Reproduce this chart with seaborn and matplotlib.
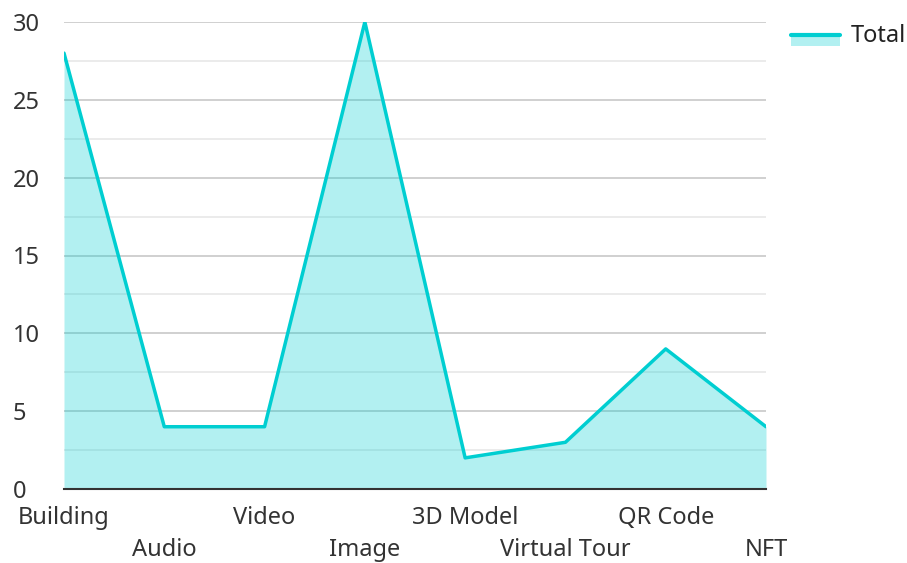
import pandas as pd
import matplotlib
matplotlib.use("Agg")
import matplotlib.pyplot as plt
import seaborn as sns
from matplotlib.patches import Rectangle
from matplotlib.lines import Line2D
from matplotlib.legend_handler import HandlerBase

# Data
categories = ["Building", "Audio", "Video", "Image", "3D Model", "Virtual Tour", "QR Code", "NFT"]
totals = [28, 4, 4, 30, 2, 3, 9, 4]

df = pd.DataFrame({"pos": range(len(categories)), "category": categories, "Total": totals})

sns.set_style("white")
plt.rcParams['font.family'] = ['Noto Sans', 'DejaVu Sans']

line_color = "#00CED1"
fsize = 17

fig = plt.figure(figsize=(9.07, 5.63), dpi=100)
ax = fig.add_axes([64 / 907, 74 / 563, 702 / 907, 467 / 563])

# grid first, then semi-transparent area on top so lines show through
ax.set_yticks(range(0, 31, 5))
ax.set_yticks([2.5, 7.5, 12.5, 17.5, 22.5, 27.5], minor=True)
ax.grid(True, axis="y", which="major", color="#c8c8c8", lw=1.2, zorder=0)
ax.grid(True, axis="y", which="minor", color="#e8e8e8", lw=1.2, zorder=0)
ax.set_axisbelow(True)

ax.fill_between(df["pos"], df["Total"], 0, color=line_color, alpha=0.3, lw=0, zorder=2)
sns.lineplot(data=df, x="pos", y="Total", color=line_color, lw=2.5, ax=ax, zorder=3)

ax.set_xlim(0, len(categories) - 1)
ax.set_ylim(0, 30)

# staggered category labels: even ones on the first row, odd ones (minor ticks) below
even = df.iloc[::2]
odd = df.iloc[1::2]
ax.set_xticks(even["pos"], even["category"], fontsize=fsize, color="#333333")
ax.set_xticks(odd["pos"], odd["category"], minor=True, fontsize=fsize, color="#333333")
ax.tick_params(axis="x", which="major", length=0, pad=12)
ax.tick_params(axis="x", which="minor", length=0, pad=35)
ax.tick_params(axis="y", which="both", length=0)
ax.tick_params(axis="y", pad=37, labelsize=fsize, labelcolor="#333333")
for lab in ax.get_yticklabels():
    lab.set_horizontalalignment("left")

for s in ["top", "right", "left"]:
    ax.spines[s].set_visible(False)
ax.spines["bottom"].set_color("#333333")
ax.spines["bottom"].set_linewidth(1.5)
ax.spines["bottom"].set_zorder(4)

ax.set_xlabel("")
ax.set_ylabel("")


# legend key: filled patch with the line along its top edge
class AreaHandler(HandlerBase):
    def create_artists(self, legend, orig, xd, yd, w, h, fontsize, trans):
        top = yd + h * 0.42
        rect = Rectangle((xd, yd - h * 0.3), w, h * 0.72, facecolor=line_color,
                         alpha=0.3, edgecolor="none", transform=trans)
        ln = Line2D([xd, xd + w], [top, top], color=line_color, lw=3, transform=trans)
        return [rect, ln]


key = Rectangle((0, 0), 1, 1)
ax.legend([key], ["Total"], loc="upper left", bbox_to_anchor=(1.022, 1.017),
          borderaxespad=0, frameon=False, fontsize=fsize, handlelength=2.1,
          handletextpad=0.42, handler_map={Rectangle: AreaHandler()},
          labelcolor="#222222")

fig.savefig("out.png", dpi=100)
